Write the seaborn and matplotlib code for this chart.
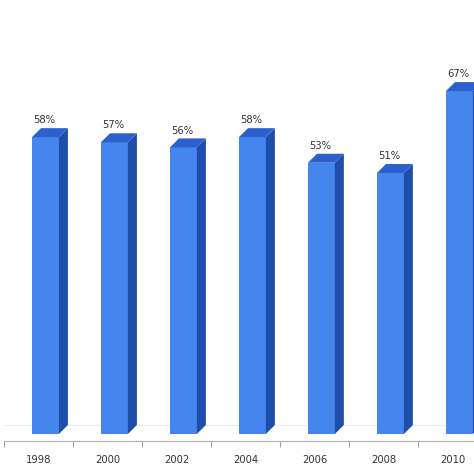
import matplotlib
matplotlib.use("Agg")
import matplotlib.pyplot as plt
import matplotlib.transforms as mtransforms
from matplotlib.patches import Polygon
import seaborn as sns
import pandas as pd

years = ["1998", "2000", "2002", "2004", "2006", "2008", "2010"]
values = [58, 57, 56, 58, 53, 51, 67]
labels = ["58%", "57%", "56%", "58%", "53%", "51%", "67%"]

sns.set_theme(style="white")
plt.rcParams['font.family'] = ['DejaVu Sans']

df = pd.DataFrame({"year": years, "value": values})

fig = plt.figure(figsize=(4.74, 4.74), dpi=100)
ax = fig.add_axes([4 / 474, 33 / 474, 483 / 474, 441 / 474])

front = "#4585EE"
side = "#1F4EAA"
top = "#2C60CC"

sns.barplot(data=df, x="year", y="value", order=years, color=front,
            saturation=1, width=0.39, ax=ax, linewidth=0, zorder=3)

ax.set_xlim(-0.601, 6.399)
ax.set_ylim(-1.37, 84.8)

dx = 9 / 69
dy = 9 / 5.118

# faint back-wall gridline
ax.axhline(dy, color="#ebebeb", lw=0.8, zorder=1)

for p, lab in zip(ax.patches, labels):
    x0, w, h = p.get_x(), p.get_width(), p.get_height()
    ax.add_patch(Polygon([(x0 + w, 0), (x0 + w + dx, dy), (x0 + w + dx, h + dy), (x0 + w, h)],
                         closed=True, facecolor=side, edgecolor="none", zorder=3))
    ax.add_patch(Polygon([(x0, h), (x0 + dx, h + dy), (x0 + w + dx, h + dy), (x0 + w, h)],
                         closed=True, facecolor=top, edgecolor="none", zorder=3))
    ax.annotate(lab, (x0 + w / 2 - 0.02, h + dy), xytext=(0, 2), textcoords="offset points",
                ha="center", va="bottom", fontsize=7.2, color="#333333", zorder=4)

for s in ["top", "right", "left"]:
    ax.spines[s].set_visible(False)
ax.spines["bottom"].set_color("#b0b0b0")
ax.spines["bottom"].set_linewidth(0.8)

ax.set_yticks([])
ax.set_xlabel("")
ax.set_ylabel("")
ax.set_xticks(range(len(years)))
ax.set_xticklabels(years, fontsize=7.2, color="#333333")
ax.tick_params(axis="x", which="major", length=0, pad=10)
ax.set_xticks([i - 0.6 for i in range(len(years) + 1)], minor=True)
ax.tick_params(axis="x", which="minor", bottom=True, length=4, width=0.8,
               color="#a0a0a0", direction="out")

offset = mtransforms.ScaledTranslation(-7 / 100, 0, fig.dpi_scale_trans)
for t in ax.get_xticklabels():
    t.set_transform(t.get_transform() + offset)

fig.savefig("out.png", dpi=100)
